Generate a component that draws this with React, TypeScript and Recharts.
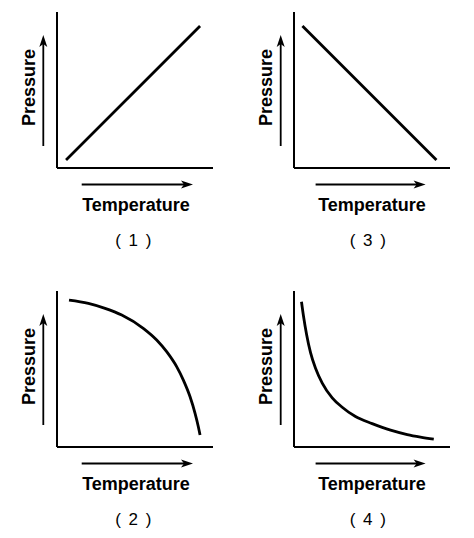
import React from 'react';
import { LineChart, Line, XAxis, YAxis, Label } from 'recharts';

// ---- Data (units: 0..10 on both axes) ----
const panel1Temperature = [0.58, 9.17];
const panel1Pressure = [0.51, 9.1];

const panel3Temperature = [0.54, 9.13];
const panel3Pressure = [9.1, 0.51];

const panel2Temperature = [0.77, 2.01, 3.08, 4.15, 5.53, 6.39, 7.03, 7.67, 8.1, 8.53, 8.85, 9.06, 9.17];
const panel2Pressure = [9.42, 9.21, 8.89, 8.46, 7.61, 6.86, 6.11, 5.15, 4.29, 3.22, 2.16, 1.3, 0.77];

const panel4Temperature = [0.48, 0.61, 0.81, 1.06, 1.38, 1.81, 2.45, 3.09, 3.94, 5.01, 6.19, 7.26, 8.11, 8.96];
const panel4Pressure = [9.31, 8.38, 7.2, 6.05, 5.05, 4.1, 3.15, 2.55, 1.95, 1.5, 1.08, 0.8, 0.64, 0.51];

const xTitle = 'Temperature';
const yTitle = 'Pressure';
const panelNumbers = ['( 1 )', '( 2 )', '( 3 )', '( 4 )'];

const toRows = (xs: number[], ys: number[]) => xs.map((x, i) => ({ x, y: ys[i] }));

const FONT = "'Liberation Sans', Arial, Helvetica, sans-serif";
const CHART_W = 237;
const CHART_H = 259;
const AXIS_SIZE = 1;
const MARGIN = { top: 12, right: 24, bottom: 91 - AXIS_SIZE, left: 57 - AXIS_SIZE };
const PLOT_H = CHART_H - 12 - 91;

type ColStyle = { arrowX0: number; arrowX1: number; titleCx: number; numCx: number; vArrowDx: number };
const LEFT_COL: ColStyle = { arrowX0: 24.7, arrowX1: 136, titleCx: 79, numCx: 77, vArrowDx: -13.7 };
const RIGHT_COL: ColStyle = { arrowX0: 21.6, arrowX1: 131.6, titleCx: 78, numCx: 74.5, vArrowDx: -13.3 };

const Decorations = (props: any) => {
  const { viewBox, col, num } = props;
  const L = viewBox.x;
  const B = viewBox.y;
  const T = B - PLOT_H;
  const c: ColStyle = col;
  const hy = B + 16.5;
  const hx0 = L + c.arrowX0;
  const hx1 = L + c.arrowX1;
  const vx = L + c.vArrowDx;
  const vy0 = T + 134;
  const vy1 = T + 23;
  return (
    <g>
      <line x1={hx0} y1={hy} x2={hx1 - 6} y2={hy} stroke="#000" strokeWidth={1.8} />
      <polygon
        points={`${hx1},${hy} ${hx1 - 12},${hy - 4} ${hx1 - 9},${hy} ${hx1 - 12},${hy + 4}`}
        fill="#000"
      />
      <line x1={vx} y1={vy0} x2={vx} y2={vy1 + 6} stroke="#000" strokeWidth={1.8} />
      <polygon
        points={`${vx},${vy1} ${vx - 4},${vy1 + 12} ${vx},${vy1 + 9} ${vx + 4},${vy1 + 12}`}
        fill="#000"
      />
      <text
        x={L + c.titleCx}
        y={B + 42.5}
        textAnchor="middle"
        fontFamily={FONT}
        fontWeight="bold"
        fontSize={18}
        fill="#000"
      >
        {xTitle}
      </text>
      <text
        transform={`translate(${L - 22}, ${T + 75.5}) rotate(-90)`}
        textAnchor="middle"
        fontFamily={FONT}
        fontWeight="bold"
        fontSize={18}
        fill="#000"
      >
        {yTitle}
      </text>
      <text
        x={L + c.numCx}
        y={B + 77.5}
        textAnchor="middle"
        fontFamily={FONT}
        fontSize={17}
        letterSpacing={1.5}
        fill="#000"
        style={{ whiteSpace: 'pre' }}
      >
        {num}
      </text>
    </g>
  );
};

type PanelProps = {
  left: number;
  top: number;
  data: { x: number; y: number }[];
  curve: 'linear' | 'natural' | 'monotone';
  col: ColStyle;
  num: string;
};

const Panel = ({ left, top, data, curve, col, num }: PanelProps) => (
  <div style={{ position: 'absolute', left, top, width: CHART_W, height: CHART_H }}>
    <LineChart width={CHART_W} height={CHART_H} data={data} margin={MARGIN}>
      <XAxis
        type="number"
        dataKey="x"
        domain={[0, 10]}
        height={AXIS_SIZE}
        tick={false}
        tickLine={false}
        axisLine={{ stroke: '#000', strokeWidth: 2 }}
      >
        <Label content={<Decorations col={col} num={num} />} />
      </XAxis>
      <YAxis
        type="number"
        dataKey="y"
        domain={[0, 10]}
        width={AXIS_SIZE}
        tick={false}
        tickLine={false}
        axisLine={{ stroke: '#000', strokeWidth: 2 }}
      />
      <Line
        type={curve}
        dataKey="y"
        stroke="#000"
        strokeWidth={2.8}
        dot={false}
        activeDot={false}
        isAnimationActive={false}
      />
    </LineChart>
  </div>
);

export default function App() {
  return (
    <div
      style={{
        position: 'absolute',
        left: 0,
        top: 0,
        width: 474,
        height: 538,
        background: '#fff',
        overflow: 'hidden',
      }}
    >
      <Panel left={0} top={0} data={toRows(panel1Temperature, panel1Pressure)} curve="linear" col={LEFT_COL} num={panelNumbers[0]} />
      <Panel left={236.5} top={0} data={toRows(panel3Temperature, panel3Pressure)} curve="linear" col={RIGHT_COL} num={panelNumbers[2]} />
      <Panel left={0} top={279} data={toRows(panel2Temperature, panel2Pressure)} curve="monotone" col={LEFT_COL} num={panelNumbers[1]} />
      <Panel left={236.5} top={279} data={toRows(panel4Temperature, panel4Pressure)} curve="monotone" col={RIGHT_COL} num={panelNumbers[3]} />
    </div>
  );
}
